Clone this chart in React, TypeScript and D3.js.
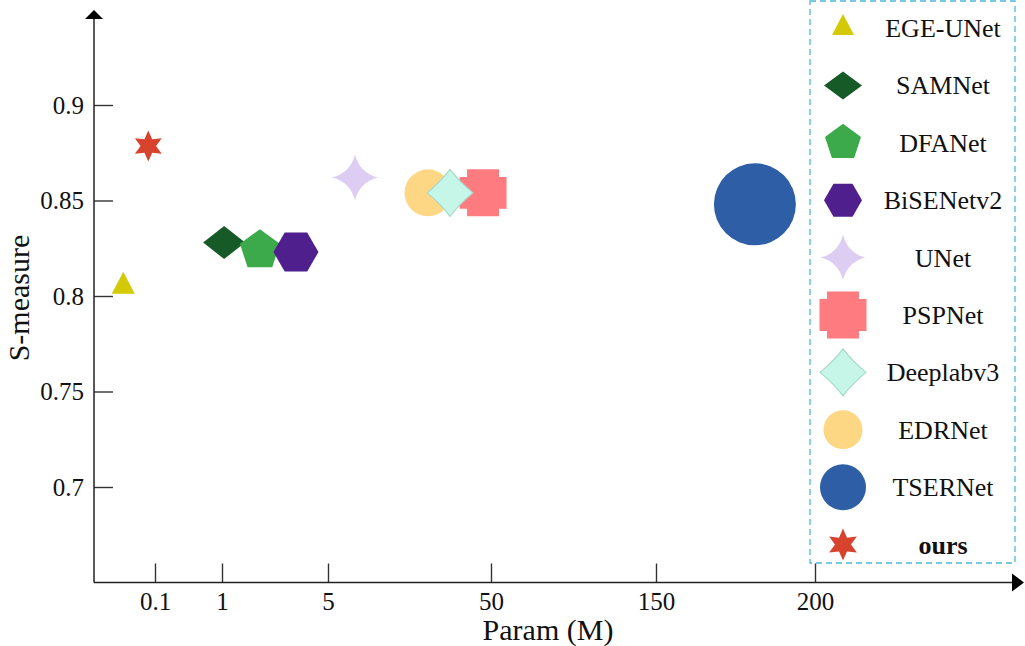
import React, { useRef, useEffect } from 'react';
import * as d3 from 'd3';

// Model names, parameter counts (M) and S-measure scores
const models = ['EGE-UNet', 'SAMNet', 'DFANet', 'BiSENetv2', 'UNet', 'PSPNet', 'Deeplabv3', 'EDRNet', 'TSERNet', 'ours'];
const paramsM = [0.048, 1.08, 2.43, 3.79, 12.45, 47.8, 38.7, 32.6, 181.1, 0.089];
const sMeasure = [0.805, 0.828, 0.824, 0.823, 0.862, 0.854, 0.854, 0.854, 0.848, 0.8785];

const xTicks = [0.1, 1, 5, 50, 150, 200];
const yTicks = [0.7, 0.75, 0.8, 0.85, 0.9];
// the x axis is stretched piecewise between these values
const xBreaks = [0, 0.1, 1, 5, 50, 150, 200, 266];

type Shape = 'triangle' | 'diamond' | 'pentagon' | 'hexagon' | 'star4' | 'cross' | 'concaveDiamond' | 'circle' | 'star6';

interface MarkerStyle {
  shape: Shape;
  fill: string;
  stroke?: string;
  plot: [number, number];
  legend: [number, number];
}

const markerStyles: Record<string, MarkerStyle> = {
  'EGE-UNet': { shape: 'triangle', fill: '#d3c904', plot: [23, 22], legend: [22, 21] },
  SAMNet: { shape: 'diamond', fill: '#155a27', plot: [42, 33], legend: [38, 28] },
  DFANet: { shape: 'pentagon', fill: '#3ca94b', plot: [40, 38], legend: [36, 34] },
  BiSENetv2: { shape: 'hexagon', fill: '#4e1f8d', plot: [45, 39], legend: [38, 33] },
  UNet: { shape: 'star4', fill: '#ddcdf3', plot: [46, 46], legend: [45, 45] },
  PSPNet: { shape: 'cross', fill: '#fe7c80', plot: [47, 47], legend: [47, 47] },
  Deeplabv3: { shape: 'concaveDiamond', fill: '#c6f6e8', stroke: '#a6d9ca', plot: [46, 47], legend: [46, 47] },
  EDRNet: { shape: 'circle', fill: '#fed785', plot: [47, 47], legend: [39, 39] },
  TSERNet: { shape: 'circle', fill: '#2d5ea6', plot: [82, 82], legend: [46, 46] },
  ours: { shape: 'star6', fill: '#d8432e', plot: [28, 31], legend: [28, 32] },
};

// EDRNet sits below PSPNet and Deeplabv3 where they overlap
const drawOrder = [0, 1, 2, 3, 4, 7, 5, 6, 8, 9];

const closed = d3.line().curve(d3.curveLinearClosed);

function shapePath(shape: Shape, w: number, h: number): string {
  const a = w / 2;
  const b = h / 2;
  switch (shape) {
    case 'triangle':
      return closed([[0, -h * 2 / 3], [a, h / 3], [-a, h / 3]]) as string;
    case 'diamond':
      return closed([[0, -b], [a, 0], [0, b], [-a, 0]]) as string;
    case 'pentagon': {
      const r = a / Math.sin((72 * Math.PI) / 180);
      const pts = d3.range(5).map(k => {
        const t = (-90 + 72 * k) * Math.PI / 180;
        return [r * Math.cos(t), r * Math.sin(t)] as [number, number];
      });
      return closed(pts) as string;
    }
    case 'hexagon': {
      const pts = d3.range(6).map(k => {
        const t = (60 * k) * Math.PI / 180;
        return [a * Math.cos(t), b * Math.sin(t) / Math.sin(Math.PI / 3)] as [number, number];
      });
      return closed(pts) as string;
    }
    case 'star4':
    case 'concaveDiamond': {
      const c = shape === 'star4' ? 0.2 : 0.44;
      const p = d3.path();
      p.moveTo(0, -b);
      p.quadraticCurveTo(c * a, -c * b, a, 0);
      p.quadraticCurveTo(c * a, c * b, 0, b);
      p.quadraticCurveTo(-c * a, c * b, -a, 0);
      p.quadraticCurveTo(-c * a, -c * b, 0, -b);
      p.closePath();
      return p.toString();
    }
    case 'cross': {
      const ia = a * 0.68;
      const ib = b * 0.68;
      return closed([
        [-ia, -b], [ia, -b], [ia, -ib], [a, -ib], [a, ib], [ia, ib],
        [ia, b], [-ia, b], [-ia, ib], [-a, ib], [-a, -ib], [-ia, -ib],
      ]) as string;
    }
    case 'circle': {
      const p = d3.path();
      p.arc(0, 0, a, 0, Math.PI * 2);
      p.closePath();
      return p.toString();
    }
    case 'star6': {
      const pts = d3.range(12).map(k => {
        const t = (-90 + 30 * k) * Math.PI / 180;
        const rr = k % 2 === 0 ? 1 : 0.5;
        return [rr * b * Math.cos(t), rr * b * Math.sin(t)] as [number, number];
      });
      return closed(pts) as string;
    }
  }
}

const FONT = 'Liberation Serif, Times New Roman, Times, serif';

export default function App() {
  const svgRef = useRef<SVGSVGElement | null>(null);
  const width = 1025;
  const height = 646;

  useEffect(() => {
    if (!svgRef.current) return;
    document.body.style.margin = '0';

    const svg = d3.select(svgRef.current);
    svg.selectAll('*').remove();

    const x0 = 94;
    const y0 = 582.5;

    const xScale = d3.scaleLinear().domain(xBreaks).range([x0, 155, 222, 328, 491, 656, 815, 1024]);
    const yScale = d3.scaleLinear().domain([0.65, 0.9]).range([y0, 105]);

    // X axis
    const gx = svg
      .append('g')
      .attr('transform', `translate(0,${y0})`)
      .call(
        d3.axisBottom(xScale)
          .tickValues(xTicks)
          .tickFormat(d => String(d))
          .tickSizeInner(-19)
          .tickSizeOuter(0)
          .tickPadding(10)
      );
    gx.select('.domain').remove();
    gx.selectAll('line').attr('stroke', '#333').attr('stroke-width', 1.4);
    gx.selectAll('text').style('font-family', FONT).attr('font-size', 25).attr('fill', '#111');

    // Y axis
    const gy = svg
      .append('g')
      .attr('transform', `translate(${x0},0)`)
      .call(
        d3.axisLeft(yScale)
          .tickValues(yTicks)
          .tickFormat(d => String(d))
          .tickSizeInner(-19)
          .tickSizeOuter(0)
          .tickPadding(10)
      );
    gy.select('.domain').remove();
    gy.selectAll('line').attr('stroke', '#333').attr('stroke-width', 1.4);
    gy.selectAll('text').style('font-family', FONT).attr('font-size', 25).attr('fill', '#111');

    // axis lines with arrow heads
    svg.append('line')
      .attr('x1', x0).attr('y1', y0).attr('x2', 1013).attr('y2', y0)
      .attr('stroke', '#222').attr('stroke-width', 1.5);
    svg.append('line')
      .attr('x1', x0).attr('y1', y0).attr('x2', x0).attr('y2', 18)
      .attr('stroke', '#222').attr('stroke-width', 1.5);
    svg.append('path')
      .attr('d', closed([[1024, y0], [1012, y0 - 9], [1012, y0 + 9]]) as string)
      .attr('fill', '#000');
    svg.append('path')
      .attr('d', closed([[x0, 10], [x0 - 9, 19], [x0 + 9, 19]]) as string)
      .attr('fill', '#000');

    // axis titles
    svg.append('text')
      .attr('x', 548).attr('y', 640)
      .attr('text-anchor', 'middle')
      .style('font-family', FONT).attr('font-size', 30).attr('fill', '#111')
      .text('Param (M)');
    svg.append('text')
      .attr('transform', 'translate(29,298) rotate(-90)')
      .attr('text-anchor', 'middle')
      .style('font-family', FONT).attr('font-size', 30).attr('fill', '#111')
      .text('S-measure');

    // Points
    svg.append('g')
      .selectAll('path')
      .data(drawOrder)
      .join('path')
      .attr('transform', i => `translate(${xScale(paramsM[i])},${yScale(sMeasure[i])})`)
      .attr('d', i => {
        const st = markerStyles[models[i]];
        return shapePath(st.shape, st.plot[0], st.plot[1]);
      })
      .attr('fill', i => markerStyles[models[i]].fill)
      .attr('stroke', i => markerStyles[models[i]].stroke ?? 'none')
      .attr('stroke-width', 1.2);

    // Legend
    const legend = svg.append('g');
    legend.append('rect')
      .attr('x', 810).attr('y', 1).attr('width', 205).attr('height', 562)
      .attr('fill', 'none')
      .attr('stroke', '#4fb8d8')
      .attr('stroke-width', 1.3)
      .attr('stroke-dasharray', '6,4');

    const rowY = (i: number) => 28 + i * 57.4;
    const items = legend.selectAll('g.item')
      .data(models)
      .join('g')
      .attr('class', 'item')
      .attr('transform', (_, i) => `translate(0,${rowY(i)})`);

    items.append('path')
      .attr('transform', 'translate(843,0)')
      .attr('d', m => {
        const st = markerStyles[m];
        return shapePath(st.shape, st.legend[0], st.legend[1]);
      })
      .attr('fill', m => markerStyles[m].fill)
      .attr('stroke', m => markerStyles[m].stroke ?? 'none')
      .attr('stroke-width', 1.2);

    items.append('text')
      .attr('x', 943).attr('y', 9)
      .attr('text-anchor', 'middle')
      .style('font-family', FONT)
      .attr('font-size', 26)
      .attr('font-weight', m => (m === 'ours' ? 'bold' : 'normal'))
      .attr('fill', '#111')
      .text(m => m);
  }, []);

  return (
    <svg ref={svgRef} width={width} height={height} style={{ display: 'block', background: '#fff' }}></svg>
  );
}
